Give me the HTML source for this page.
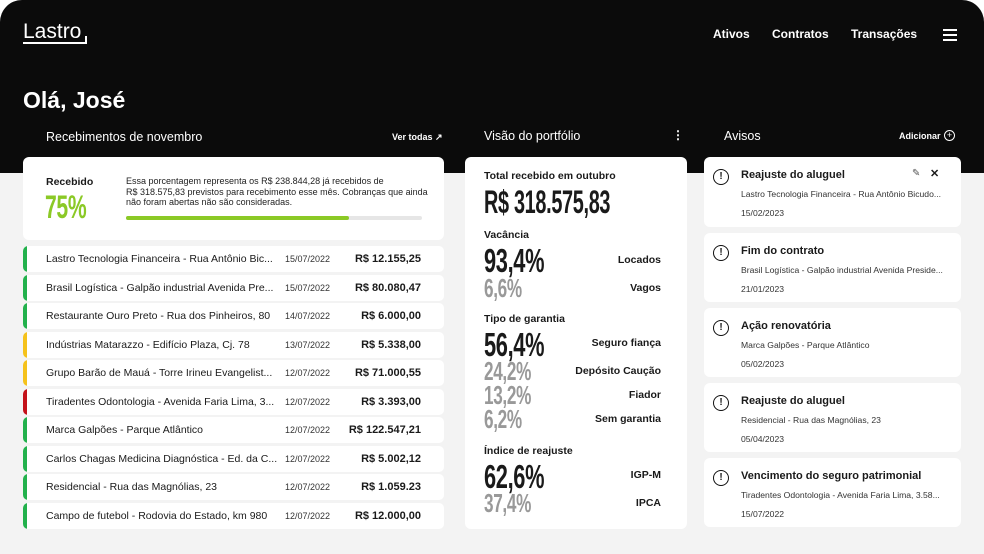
<!DOCTYPE html>
<html><head><meta charset="utf-8"><style>
*{margin:0;padding:0;box-sizing:border-box}
body{width:984px;height:554px;background:#fff;font-family:"Liberation Sans",sans-serif;position:relative;overflow:hidden;color:#1a1a1a}
.page{position:absolute;left:0;top:0;width:984px;height:554px;background:#f3f3f3;border-radius:22px 22px 0 0;overflow:hidden}
.hdr{position:absolute;left:0;top:0;width:984px;height:173px;background:#0b0b0b}
.a{position:absolute;white-space:nowrap}
.w{color:#fff}
.card{position:absolute;background:#fff;border-radius:6px}
.c{display:inline-block;transform:scaleX(.66);transform-origin:left center;font-weight:bold;letter-spacing:-.5px}
.g{color:#999}
.row{position:absolute;left:23px;width:421px;height:26px;background:#fff;border-radius:5px;overflow:hidden;font-size:10.5px}
.row .bar{position:absolute;left:0;top:0;width:4px;height:26px}
.row .n{position:absolute;left:23px;top:7px;max-width:235px;overflow:hidden;white-space:nowrap}
.row .d{position:absolute;left:262px;top:8px;font-size:9px;color:#333}
.row .v{position:absolute;right:23px;top:7px;font-weight:bold;font-size:11px}
.lbl{position:absolute;right:26px;font-size:10.5px;font-weight:bold}
.av .ic{position:absolute;left:9px;top:12px;width:16px;height:16px;border:1.6px solid #111;border-radius:50%;font-size:10px;font-weight:bold;text-align:center;line-height:13px}
.av .t{position:absolute;left:37px;top:12px;font-size:11px;font-weight:bold;white-space:nowrap}
.av .s{position:absolute;left:37px;top:32px;font-size:8.6px;color:#333;white-space:nowrap}
.av .dt{position:absolute;left:37px;top:51px;font-size:8.6px;color:#333}
</style></head><body>
<div class="page">
<div class="hdr"></div>
<div class="a w" style="left:23px;top:20px;font-size:21px;">Lastro</div>
<div class="a" style="left:23px;top:42px;width:63px;height:2px;background:#fff"></div>
<div class="a" style="left:85px;top:36px;width:2px;height:8px;background:#fff"></div>
<div class="a w" style="left:713px;top:27px;font-size:12px;font-weight:bold">Ativos</div>
<div class="a w" style="left:772px;top:27px;font-size:12px;font-weight:bold">Contratos</div>
<div class="a w" style="left:851px;top:27px;font-size:12px;font-weight:bold">Transações</div>
<div class="a" style="left:943px;top:29px;width:14px;height:2px;background:#fff;box-shadow:0 5px 0 #fff,0 10px 0 #fff"></div>
<div class="a w" style="left:23px;top:87px;font-size:23px;font-weight:bold;">Olá, José</div>
<div class="a w" style="left:46px;top:130px;font-size:12.5px;">Recebimentos de novembro</div>
<div class="a w" style="left:392px;top:132px;font-size:9px;font-weight:bold;">Ver todas ↗</div>
<div class="a w" style="left:484px;top:129px;font-size:12.5px;">Visão do portfólio</div>
<div class="a w" style="left:672px;top:128px;font-size:12px;font-weight:bold;">⋮</div>
<div class="a w" style="left:724px;top:129px;font-size:12.5px;">Avisos</div>
<div class="a w" style="left:899px;top:131px;font-size:9px;font-weight:bold;">Adicionar</div>
<div class="a" style="left:944px;top:130px;width:11px;height:11px;border:1.3px solid #fff;border-radius:50%;color:#fff;font-size:9px;line-height:8px;text-align:center">+</div>

<div class="card" style="left:23px;top:157px;width:421px;height:83px">
<div class="a" style="left:23px;top:19px;font-size:10.5px;font-weight:bold">Recebido</div>
<div class="a" style="left:22px;top:32px;font-size:32px;color:#8bc926"><span class="c" style="transform:scaleX(.66)">75%</span></div>
<div class="a" style="left:103px;top:19px;font-size:9px;line-height:10.5px;color:#222">Essa porcentagem representa os R$ 238.844,28 já recebidos de<br>R$ 318.575,83 previstos para recebimento esse mês. Cobranças que ainda<br>não foram abertas não são consideradas.</div>
<div class="a" style="left:103px;top:59px;width:296px;height:4px;background:#e6e6e6;border-radius:2px"></div>
<div class="a" style="left:103px;top:59px;width:223px;height:4px;background:#8bc926;border-radius:2px"></div>
</div>

<div class="row" style="top:246px"><div class="bar" style="background:#22b14c"></div><div class="n">Lastro Tecnologia Financeira - Rua Antônio Bic...</div><div class="d">15/07/2022</div><div class="v">R$ 12.155,25</div></div>
<div class="row" style="top:275px"><div class="bar" style="background:#22b14c"></div><div class="n">Brasil Logística - Galpão industrial Avenida Pre...</div><div class="d">15/07/2022</div><div class="v">R$ 80.080,47</div></div>
<div class="row" style="top:303px"><div class="bar" style="background:#22b14c"></div><div class="n">Restaurante Ouro Preto - Rua dos Pinheiros, 80</div><div class="d">14/07/2022</div><div class="v">R$ 6.000,00</div></div>
<div class="row" style="top:332px"><div class="bar" style="background:#f5c21b"></div><div class="n">Indústrias Matarazzo - Edifício Plaza, Cj. 78</div><div class="d">13/07/2022</div><div class="v">R$ 5.338,00</div></div>
<div class="row" style="top:360px"><div class="bar" style="background:#f5c21b"></div><div class="n">Grupo Barão de Mauá - Torre Irineu Evangelist...</div><div class="d">12/07/2022</div><div class="v">R$ 71.000,55</div></div>
<div class="row" style="top:389px"><div class="bar" style="background:#c4121a"></div><div class="n">Tiradentes Odontologia - Avenida Faria Lima, 3...</div><div class="d">12/07/2022</div><div class="v">R$ 3.393,00</div></div>
<div class="row" style="top:417px"><div class="bar" style="background:#22b14c"></div><div class="n">Marca Galpões - Parque Atlântico</div><div class="d">12/07/2022</div><div class="v">R$ 122.547,21</div></div>
<div class="row" style="top:446px"><div class="bar" style="background:#22b14c"></div><div class="n">Carlos Chagas Medicina Diagnóstica - Ed. da C...</div><div class="d">12/07/2022</div><div class="v">R$ 5.002,12</div></div>
<div class="row" style="top:474px"><div class="bar" style="background:#22b14c"></div><div class="n">Residencial - Rua das Magnólias, 23</div><div class="d">12/07/2022</div><div class="v">R$ 1.059.23</div></div>
<div class="row" style="top:503px"><div class="bar" style="background:#22b14c"></div><div class="n">Campo de futebol - Rodovia do Estado, km 980</div><div class="d">12/07/2022</div><div class="v">R$ 12.000,00</div></div>

<div class="card" style="left:465px;top:157px;width:222px;height:372px">
<div class="a" style="left:19px;top:13px;font-size:10.5px;font-weight:bold">Total recebido em outubro</div>
<div class="a" style="left:19px;top:25px;font-size:32px;line-height:40px"><span class="c" style="transform:scaleX(.62)">R$ 318.575,83</span></div>
<div class="a" style="left:19px;top:72px;font-size:10.5px;font-weight:bold">Vacância</div>
<div class="a" style="left:19px;top:84px;font-size:33px;line-height:40px"><span class="c">93,4%</span></div>
<div class="lbl" style="top:97px">Locados</div>
<div class="a g" style="left:19px;top:115px;font-size:26px;line-height:32px"><span class="c">6,6%</span></div>
<div class="lbl" style="top:125px">Vagos</div>
<div class="a" style="left:19px;top:156px;font-size:10.5px;font-weight:bold">Tipo de garantia</div>
<div class="a" style="left:19px;top:168px;font-size:33px;line-height:40px"><span class="c">56,4%</span></div>
<div class="lbl" style="top:180px">Seguro fiança</div>
<div class="a g" style="left:19px;top:198px;font-size:26px;line-height:32px"><span class="c">24,2%</span></div>
<div class="lbl" style="top:208px">Depósito Caução</div>
<div class="a g" style="left:19px;top:222px;font-size:26px;line-height:32px"><span class="c">13,2%</span></div>
<div class="lbl" style="top:232px">Fiador</div>
<div class="a g" style="left:19px;top:246px;font-size:26px;line-height:32px"><span class="c">6,2%</span></div>
<div class="lbl" style="top:256px">Sem garantia</div>
<div class="a" style="left:19px;top:288px;font-size:10.5px;font-weight:bold">Índice de reajuste</div>
<div class="a" style="left:19px;top:300px;font-size:33px;line-height:40px"><span class="c">62,6%</span></div>
<div class="lbl" style="top:312px">IGP-M</div>
<div class="a g" style="left:19px;top:330px;font-size:26px;line-height:32px"><span class="c">37,4%</span></div>
<div class="lbl" style="top:340px">IPCA</div>
</div>

<div class="card av" style="left:704px;top:157px;width:257px;height:70px"><div class="ic">!</div><div class="t">Reajuste do aluguel</div><div class="s">Lastro Tecnologia Financeira - Rua Antônio Bicudo...</div><div class="dt">15/02/2023</div>
<div class="a" style="left:208px;top:11px;font-size:10px;color:#555">✎</div><div class="a" style="left:226px;top:10px;font-size:11px;font-weight:bold">✕</div></div>
<div class="card av" style="left:704px;top:233px;width:257px;height:69px"><div class="ic">!</div><div class="t">Fim do contrato</div><div class="s">Brasil Logística - Galpão industrial Avenida Preside...</div><div class="dt">21/01/2023</div></div>
<div class="card av" style="left:704px;top:308px;width:257px;height:69px"><div class="ic">!</div><div class="t">Ação renovatória</div><div class="s">Marca Galpões - Parque Atlântico</div><div class="dt">05/02/2023</div></div>
<div class="card av" style="left:704px;top:383px;width:257px;height:69px"><div class="ic">!</div><div class="t">Reajuste do aluguel</div><div class="s">Residencial - Rua das Magnólias, 23</div><div class="dt">05/04/2023</div></div>
<div class="card av" style="left:704px;top:458px;width:257px;height:69px"><div class="ic">!</div><div class="t">Vencimento do seguro patrimonial</div><div class="s">Tiradentes Odontologia - Avenida Faria Lima, 3.58...</div><div class="dt">15/07/2022</div></div>
</div>
</body></html>
